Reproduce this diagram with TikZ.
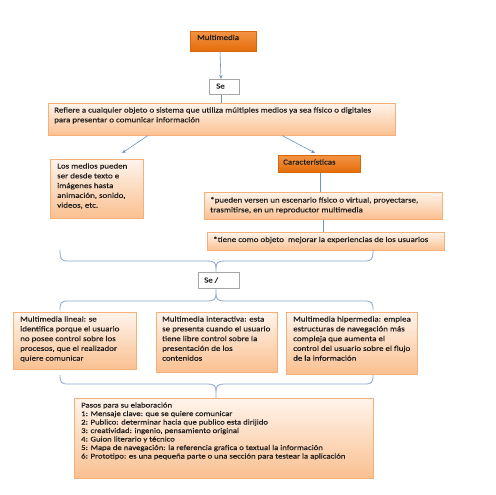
\documentclass[tikz,border=0pt]{standalone}
\usepackage{fontspec}
\setmainfont{Carlito}[FakeStretch=1.19,FakeBold=0.35]
\usetikzlibrary{shadows,arrows.meta}
\definecolor{orA}{HTML}{F39444}
\definecolor{orB}{HTML}{E46C0A}
\definecolor{orD}{HTML}{D8670E}
\definecolor{lpA}{HTML}{FFF4EC}
\definecolor{lpB}{HTML}{FAC090}
\definecolor{lpD}{HTML}{F6B07A}
\definecolor{conn}{HTML}{6E93C0}
\definecolor{brc}{HTML}{8AA6CC}
\definecolor{txtc}{HTML}{1E1E1E}
\tikzset{
  darkbox/.style={draw=orD, line width=0.5pt, top color=orA, bottom color=orB, drop shadow={shadow xshift=1pt, shadow yshift=-1pt, opacity=0.25}, anchor=north west, inner sep=0pt},
  lbox/.style={draw=lpD, line width=0.5pt, top color=lpA, bottom color=lpB, drop shadow={shadow xshift=1pt, shadow yshift=-1pt, opacity=0.3}, anchor=north west, inner sep=0pt},
  wbox/.style={draw=gray!70, line width=0.5pt, fill=white, anchor=north west, inner sep=0pt},
  txt/.style={anchor=base west, inner sep=0pt, align=left, text=txtc, font=\fontsize{7.5}{9.8}\selectfont},
  ptxt/.style={txt, font=\fontsize{7.3}{8.5}\selectfont},
  conline/.style={draw=conn, line width=0.6pt},
  conarrow/.style={conline, -{Stealth[length=4pt,width=3.5pt]}},
  bracel/.style={draw=brc, line width=0.8pt},
}
\begin{document}
\begin{tikzpicture}[x=1pt,y=-1pt]
\useasboundingbox[fill=white] (0,0) rectangle (495,495);

% boxes (text nodes are anchored at the baseline of their last line)
\node[darkbox, minimum width=66pt, minimum height=20pt] (mm) at (190,31) {};
\node[txt] (mmT) at (197,40) {Multimedia};

\node[wbox, minimum width=30pt, minimum height=15pt] (se) at (209,79) {};
\node[txt] (seT) at (216,88.5) {Se};

\node[lbox, minimum width=347pt, minimum height=32pt] (main) at (48,103) {};
\node[txt] (mainT) at (54,122.3) {Refiere a cualquier objeto o sistema que utiliza múltiples medios ya sea físico o digitales\\para presentar o comunicar información};

\node[lbox, minimum width=93pt, minimum height=59pt] (med) at (50,159) {};
\node[txt] (medT) at (57,207.7) {Los medios pueden\\ser desde texto e\\imágenes hasta\\animación, sonido,\\videos, etc.};

\node[darkbox, minimum width=82pt, minimum height=17pt] (car) at (278,155) {};
\node[txt] (carT) at (283,164.5) {Características};

\node[lbox, minimum width=238pt, minimum height=27pt] (pue) at (204,192) {};
\node[txt] (pueT) at (210,212.3) {*pueden versen un escenario físico o virtual, proyectarse,\\trasmitirse, en un reproductor multimedia};

\node[lbox, minimum width=237pt, minimum height=18pt] (tie) at (207,232) {};
\node[txt] (tieT) at (213,242) {*tiene como objeto\ \ mejorar la experiencias de los usuarios};

\node[wbox, minimum width=41pt, minimum height=16pt] (se2) at (198,272) {};
\node[txt] (se2T) at (204,282.5) {Se /};

\node[lbox, minimum width=123pt, minimum height=57pt] (lin) at (13,312) {};
\node[txt] (linT) at (20,360.7) {Multimedia lineal: se\\identifica porque el usuario\\no posee control sobre los\\procesos, que el realizador\\quiere comunicar};

\node[lbox, minimum width=121pt, minimum height=60pt] (int) at (156,312) {};
\node[txt] (intT) at (162,360.7) {Multimedia interactiva: esta\\se presenta cuando el usuario\\tiene libre control sobre la\\presentación de los\\contenidos};

\node[lbox, minimum width=131pt, minimum height=62pt] (hip) at (286,312) {};
\node[txt] (hipT) at (293,360.7) {Multimedia hipermedia: emplea\\estructuras de navegación más\\compleja que aumenta el\\control del usuario sobre el flujo\\de la información};

\node[lbox, minimum width=299pt, minimum height=80pt] (pas) at (74,398) {};
\node[ptxt] (pasT) at (81,458.5) {Pasos para su elaboración\\1: Mensaje clave: que se quiere comunicar\\2: Publico: determinar hacia que publico esta dirijido\\3: creatividad: ingenio, pensamiento original\\4: Guion literario y técnico\\5: Mapa de navegación: la referencia grafica o textual la información\\6: Prototipo: es una pequeña parte o una sección para testear la aplicación};

% connectors
\coordinate (medtip) at (122,153);
\coordinate (cartip) at (315,153);
\draw[conarrow] (mm.south -| 220,0) -- (se.north -| 221,0);
\draw[conline] (se.south -| 221,0) -- (main.north -| 221,0);
\draw[conarrow] (main.south -| 148,0) -- (medtip);
\draw[conarrow] (main.south -| 282,0) -- (cartip);
\draw[conline] (car.south -| 320,0) -- (pue.north -| 320,0);
\draw[conline] (pue.south -| 323,0) -- (tie.north -| 323,0);

% braces
\coordinate (b1l) at (60,250);
\coordinate (b1r) at (373,250);
\draw[bracel] (b1l) .. controls (60,259) and (61,261) .. (68,261) -- (208,261)
  .. controls (214,261) and (216,263) .. (216,268) -- (se2.north -| 216,0);
\draw[bracel] (b1r) .. controls (373,259) and (372,261) .. (365,261) -- (224,261)
  .. controls (218,261) and (216,263) .. (216,268);

\coordinate (b2l) at (60,310);
\coordinate (b2r) at (373,310);
\draw[bracel] (se2.south -| 216,0) -- (216,294) .. controls (216,299) and (214,301) .. (208,301) -- (68,301)
  .. controls (61,301) and (60,303) .. (b2l);
\draw[bracel] (216,294) .. controls (216,299) and (218,301) .. (224,301) -- (365,301)
  .. controls (372,301) and (373,303) .. (b2r);

\coordinate (b3l) at (60,375);
\coordinate (b3r) at (373,375);
\draw[bracel] (b3l) .. controls (60,382) and (61,384) .. (68,384) -- (208,384)
  .. controls (214,384) and (216,386) .. (216,391) -- (pas.north -| 216,0);
\draw[bracel] (b3r) .. controls (373,382) and (372,384) .. (365,384) -- (224,384)
  .. controls (218,384) and (216,386) .. (216,391);
\end{tikzpicture}
\end{document}
